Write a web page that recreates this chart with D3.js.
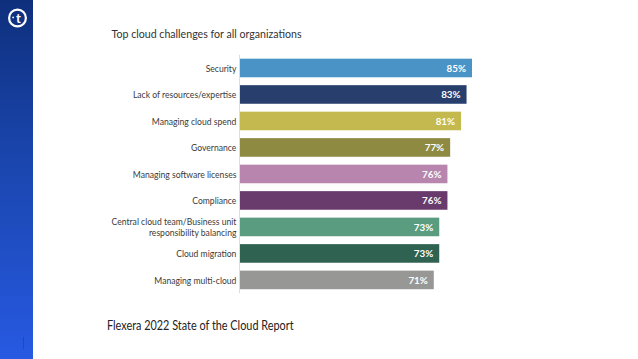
<!DOCTYPE html>
<html>
<head>
<meta charset="utf-8">
<script src="https://cdn.jsdelivr.net/npm/d3@7"></script>
<style>
  html, body { margin: 0; padding: 0; background: #fff; }
  text { font-family: Lato, "Noto Sans", sans-serif; }
  .axis path, .axis line { display: none; }
</style>
</head>
<body>
<div id="chart"></div>
<script>
const categories = ['Security', 'Lack of resources/expertise', 'Managing cloud spend', 'Governance',
  'Managing software licenses', 'Compliance', 'Central cloud team/Business unit|responsibility balancing',
  'Cloud migration', 'Managing multi-cloud']
const values = [85, 83, 81, 77, 76, 76, 73, 73, 71]
const colors = ['#4a93c6', '#283f6e', '#c3b94e', '#8e8a41', '#b885ae', '#693a6c', '#5a9c7f', '#2f6250', '#979795']

const width = 638
const height = 359
const margins = { top: 54.7, bottom: 65.8, left: 240 }
// the source font is narrower than anything installed
const squeeze = 0.905

let svg = d3.select('#chart').append('svg')
    .attr('width', width)
    .attr('height', height)
    .style('display', 'block')

// Sidebar
let grad = svg.append('defs').append('linearGradient')
    .attr('id', 'side')
    .attr('x1', 0).attr('x2', 0).attr('y1', 0).attr('y2', 1)
grad.append('stop').attr('offset', '0%').attr('stop-color', '#0e2f7c')
grad.append('stop').attr('offset', '45%').attr('stop-color', '#1a46ae')
grad.append('stop').attr('offset', '100%').attr('stop-color', '#2759e2')

svg.append('rect')
    .attr('width', 33)
    .attr('height', height)
    .attr('fill', 'url(#side)')
svg.append('line')
    .attr('x1', 23.5).attr('x2', 23.5)
    .attr('y1', 337).attr('y2', 349)
    .attr('stroke', '#1a3f9e')
    .attr('stroke-opacity', 0.6)

// Logo
let logo = svg.append('g').attr('transform', 'translate(17.5, 18)')
logo.append('circle')
    .attr('r', 8.4)
    .attr('fill', 'none')
    .attr('stroke', '#fff')
    .attr('stroke-width', 2.2)
logo.append('text')
    .attr('y', 4.5)
    .attr('x', 0.8)
    .attr('text-anchor', 'middle')
    .attr('fill', '#fff')
    .style('font-size', '13px')
    .style('font-weight', 700)
    .text('t')
logo.append('circle').attr('cx', -4.4).attr('cy', -0.6).attr('r', 0.9).attr('fill', '#fff')

svg.append('text')
    .attr('transform', 'translate(111.5, 37.5) scale(0.885, 1)')
    .attr('fill', '#333')
    .style('font-size', '12px')
    .text('Top cloud challenges for all organizations')

let xScale = d3.scaleLinear().domain([0, 85]).range([margins.left, 472])
let yScale = d3.scaleBand()
    .domain(categories)
    .range([margins.top, height - margins.bottom])
    .paddingInner(0.298)
    .paddingOuter(0.15)

let yAxis = d3.axisLeft(yScale).tickSize(0).tickPadding(4).tickFormat(d => d.split('|')[0])
let yAxisDiv = svg.append('g')
    .attr('class', 'axis')
    .attr('transform', `translate(${margins.left}, 0)`)
    .call(yAxis)

yAxisDiv.selectAll('text')
    .attr('fill', '#3a3a3a')
    .attr('transform', `translate(0, 0.8) scale(${squeeze}, 1)`)
    .style('font-size', '9.5px')
    .each(function (d) {
      let parts = d.split('|')
      if (parts.length < 2) return
      let label = d3.select(this).text(null)
      label.append('tspan').attr('x', -4).attr('dy', '-0.3em').text(parts[0])
      label.append('tspan').attr('x', -4).attr('dy', '1.15em').text(parts[1])
    })

svg.append('line')
    .attr('x1', margins.left - 0.5)
    .attr('x2', margins.left - 0.5)
    .attr('y1', margins.top)
    .attr('y2', height - margins.bottom)
    .attr('stroke', '#ddd')

svg.selectAll('.bar')
    .data(categories)
    .enter().append('rect')
    .attr('class', 'bar')
    .attr('x', xScale(0))
    .attr('y', d => yScale(d))
    .attr('width', (d, i) => xScale(values[i]) - xScale(0))
    .attr('height', yScale.bandwidth())
    .attr('fill', (d, i) => colors[i])

svg.selectAll('.value')
    .data(categories)
    .enter().append('text')
    .attr('class', 'value')
    .attr('x', (d, i) => xScale(values[i]) - 6)
    .attr('y', d => yScale(d) + yScale.bandwidth() / 2 + 0.6)
    .attr('dy', '0.35em')
    .attr('text-anchor', 'end')
    .attr('fill', '#fff')
    .style('font-size', '9.8px')
    .style('font-weight', 700)
    .text((d, i) => values[i] + '%')

svg.append('text')
    .attr('transform', 'translate(107, 330) scale(0.87, 1)')
    .attr('fill', '#222')
    .style('font-size', '12.5px')
    .text('Flexera 2022 State of the Cloud Report')
</script>
</body>
</html>
